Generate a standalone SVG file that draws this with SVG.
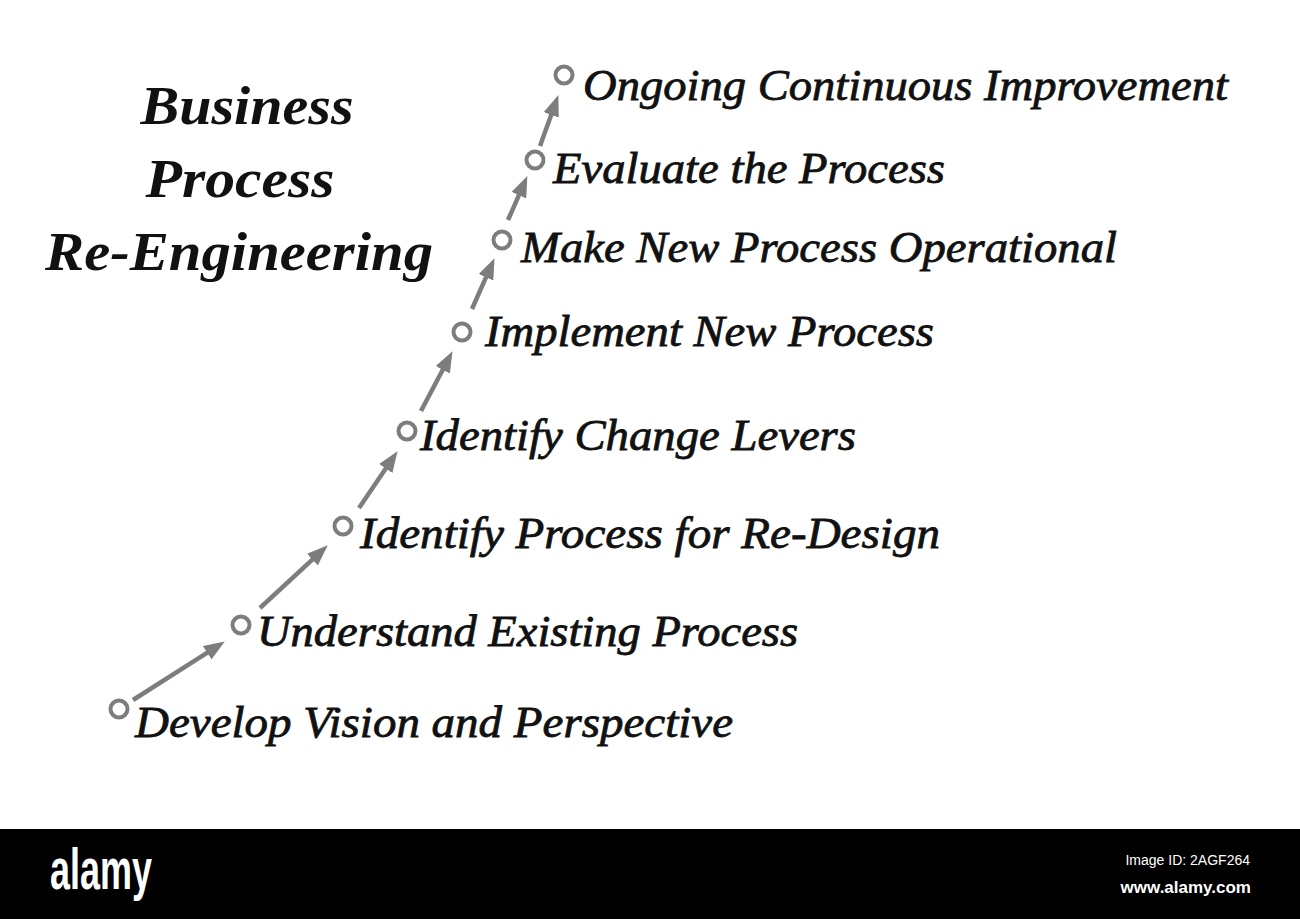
<svg xmlns="http://www.w3.org/2000/svg" width="1300" height="919" viewBox="0 0 1300 919">
<style>
.lbl{font-family:"Liberation Serif","DejaVu Serif",serif;font-style:italic;font-size:44px;fill:#111;stroke:#111;stroke-width:0.8}
.ttl{font-family:"Liberation Serif","DejaVu Serif",serif;font-style:italic;font-weight:bold;font-size:54px;fill:#111;text-anchor:middle}
.dot{fill:none;stroke:#7d7d7d;stroke-width:4}
.con{stroke:#7d7d7d;stroke-width:4.5;fill:none;marker-end:url(#ah)}
.wm{font-family:"Liberation Sans",Arial,sans-serif;fill:#fff;text-anchor:end}
</style>
<defs>
<marker id="ah" markerUnits="userSpaceOnUse" markerWidth="22" markerHeight="16" refX="4" refY="8" orient="auto">
<path d="M0,0 L21,8 L0,16 z" fill="#7d7d7d"/>
</marker>
</defs>
<rect x="0" y="0" width="1300" height="919" fill="#fff"/>
<g id="title">
<text class="ttl" x="247" y="124" textLength="213" lengthAdjust="spacingAndGlyphs">Business</text>
<text class="ttl" x="240" y="197" textLength="189" lengthAdjust="spacingAndGlyphs">Process</text>
<text class="ttl" x="239" y="270" textLength="388" lengthAdjust="spacingAndGlyphs">Re-Engineering</text>
</g>
<g id="connectors">
<line class="con" x1="133" y1="700" x2="210.5" y2="650.6"/>
<line class="con" x1="260" y1="608" x2="315.3" y2="556.9"/>
<line class="con" x1="359" y1="508" x2="388" y2="465.2"/>
<line class="con" x1="421" y1="411" x2="444.6" y2="366.2"/>
<line class="con" x1="472" y1="309" x2="487.6" y2="273.7"/>
<line class="con" x1="508" y1="220" x2="520.5" y2="191.6"/>
<line class="con" x1="540" y1="146" x2="552.6" y2="111.1"/>
</g>
<g id="n1"><circle class="dot" cx="119" cy="709" r="8.5"/><text class="lbl" x="135" y="737" textLength="598" lengthAdjust="spacingAndGlyphs">Develop Vision and Perspective</text></g>
<g id="n2"><circle class="dot" cx="241" cy="625" r="8.5"/><text class="lbl" x="257" y="646" textLength="541" lengthAdjust="spacingAndGlyphs">Understand Existing Process</text></g>
<g id="n3"><circle class="dot" cx="343" cy="526" r="8.5"/><text class="lbl" x="360" y="548" textLength="580" lengthAdjust="spacingAndGlyphs">Identify Process for Re-Design</text></g>
<g id="n4"><circle class="dot" cx="407" cy="431" r="8.5"/><text class="lbl" x="420" y="450" textLength="436" lengthAdjust="spacingAndGlyphs">Identify Change Levers</text></g>
<g id="n5"><circle class="dot" cx="462" cy="332" r="8.5"/><text class="lbl" x="485" y="346" textLength="449" lengthAdjust="spacingAndGlyphs">Implement New Process</text></g>
<g id="n6"><circle class="dot" cx="502" cy="240" r="8.5"/><text class="lbl" x="521" y="262" textLength="596" lengthAdjust="spacingAndGlyphs">Make New Process Operational</text></g>
<g id="n7"><circle class="dot" cx="535" cy="160" r="8.5"/><text class="lbl" x="553" y="183" textLength="392" lengthAdjust="spacingAndGlyphs">Evaluate the Process</text></g>
<g id="n8"><circle class="dot" cx="564" cy="75" r="8.5"/><text class="lbl" x="583" y="100" textLength="645" lengthAdjust="spacingAndGlyphs">Ongoing Continuous Improvement</text></g>
<g id="banner">
<rect x="0" y="829" width="1300" height="90" fill="#000"/>
<text x="50" y="889" font-family="Liberation Sans,Arial,sans-serif" font-weight="bold" font-size="58" fill="#fff" textLength="102" lengthAdjust="spacingAndGlyphs">alamy</text>
<text class="wm" x="1250" y="865" font-size="14">Image ID: 2AGF264</text>
<text class="wm" x="1251" y="893" font-size="17" font-weight="bold">www.alamy.com</text>
</g>
</svg>
